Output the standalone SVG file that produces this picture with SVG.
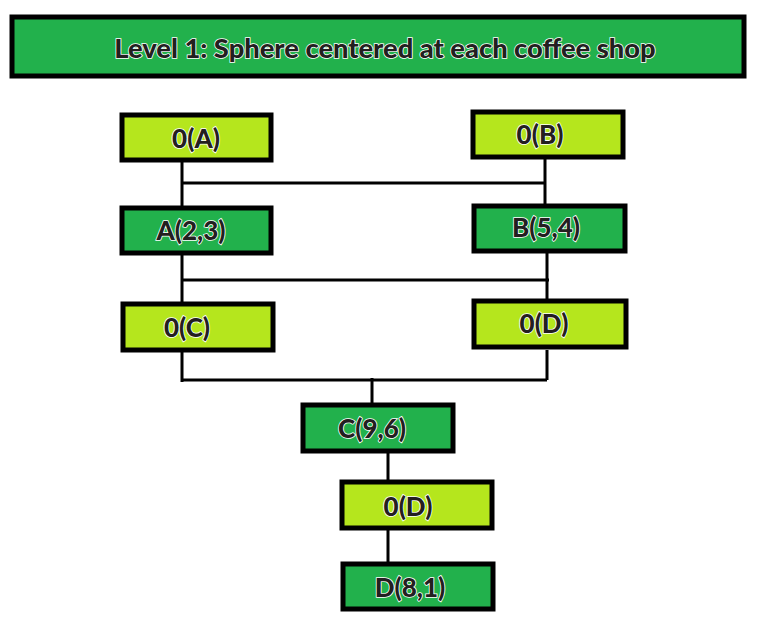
<svg xmlns="http://www.w3.org/2000/svg" width="763" height="623" viewBox="0 0 763 623">
<style>
.box{stroke:#000;stroke-width:5}
.lt{fill:#b5e61d}
.dk{fill:#22b14c}
.t{font-family:Lato,"Open Sans","Liberation Sans",sans-serif;font-weight:900;fill:#231f20;stroke:#fff;stroke-width:1.6;paint-order:stroke;text-anchor:middle;dominant-baseline:central}
.n{font-size:26px}
.c{stroke:#000;stroke-width:3;fill:none}
</style>
<rect width="763" height="623" fill="#fff"/>
<g id="title">
<rect class="box dk" x="12" y="17" width="732" height="59"/>
<text class="t" x="385" y="47" font-size="27.3">Level 1: Sphere centered at each coffee shop</text>
</g>
<g id="connectors">
<path class="c" d="M182,162 V206 M545,158 V204 M182,183 H545"/>
<path class="c" d="M182,255 V302 M547,252 V300 M182,280 H549"/>
<path class="c" d="M182,352 V382 M547,350 V380 M182,380 H547 M372,378 V403"/>
<path class="c" d="M388,453 V480 M388,529 V563"/>
</g>
<g id="n0A"><rect class="box lt" x="122" y="115" width="149" height="45"/><text class="t n" x="196" y="138">0(A)</text></g>
<g id="n0B"><rect class="box lt" x="473" y="112" width="150" height="45"/><text class="t n" x="540" y="134">0(B)</text></g>
<g id="nA"><rect class="box dk" x="122" y="208" width="149" height="45"/><text class="t n" x="191" y="230">A(2,3)</text></g>
<g id="nB"><rect class="box dk" x="474" y="206" width="151" height="45"/><text class="t n" x="546" y="227">B(5,4)</text></g>
<g id="n0C"><rect class="box lt" x="123" y="304" width="150" height="46"/><text class="t n" x="187" y="327">0(C)</text></g>
<g id="n0D1"><rect class="box lt" x="474" y="301" width="152" height="46"/><text class="t n" x="544" y="323">0(D)</text></g>
<g id="nC"><rect class="box dk" x="303" y="405" width="150" height="46"/><text class="t n" x="372" y="428">C(9,6)</text></g>
<g id="n0D2"><rect class="box lt" x="342" y="482" width="150" height="46"/><text class="t n" x="408" y="506">0(D)</text></g>
<g id="nD"><rect class="box dk" x="343" y="564" width="150" height="45"/><text class="t n" x="410" y="587">D(8,1)</text></g>
</svg>
